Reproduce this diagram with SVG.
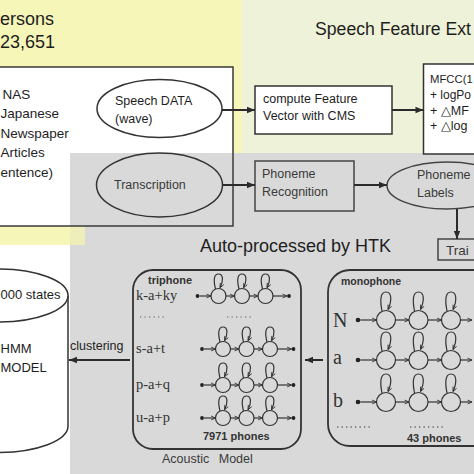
<svg xmlns="http://www.w3.org/2000/svg" width="474" height="474" viewBox="0 0 474 474">
<style>
.t{font-family:"Liberation Sans",Arial,sans-serif;fill:#1e1e1e}
.tg{font-family:"Liberation Sans",Arial,sans-serif;fill:#3a3a3a}
.b{font-family:"Liberation Sans",Arial,sans-serif;font-weight:bold;fill:#333}
.sf{font-family:"Liberation Serif","Times New Roman",serif;fill:#333}
.box{stroke:#333;stroke-width:1.5}
.conn{stroke:#2b2b2b;stroke-width:2;fill:none}
.sm circle,.sm line,.sm path{stroke:#333;stroke-width:1.2;fill:none}
.sm .dt{fill:#222;stroke:none}
.dots{stroke:#8a8a8a;stroke-width:1.3;stroke-dasharray:1.3 3.2;fill:none}
</style>
<defs>
<marker id="ah" viewBox="0 0 10 10" refX="10" refY="5" markerWidth="9" markerHeight="8" orient="auto" markerUnits="userSpaceOnUse"><path d="M0,1 L10,5 L0,9 z" fill="#2b2b2b"/></marker>
<marker id="oh" viewBox="0 0 10 10" refX="9" refY="5" markerWidth="5.5" markerHeight="5.5" orient="auto" markerUnits="userSpaceOnUse"><path d="M1,1.5 L9,5 L1,8.5" fill="none" stroke="#333" stroke-width="1.6"/></marker>
<g id="trow" class="sm">
<circle class="dt" r="1.9"/>
<line x1="2" y1="0" x2="13.5" y2="0" marker-end="url(#oh)"/>
<circle cx="21" cy="0" r="7.5"/>
<line x1="28.5" y1="0" x2="37" y2="0" marker-end="url(#oh)"/>
<circle cx="44.5" cy="0" r="7.5"/>
<line x1="52" y1="0" x2="60.5" y2="0" marker-end="url(#oh)"/>
<circle cx="68" cy="0" r="7.5"/>
<line x1="75.5" y1="0" x2="89.5" y2="0" marker-end="url(#oh)"/>
<circle class="dt" cx="91.5" cy="0" r="1.9"/>
<path d="M18,-7 C16,-15 16,-22 21,-22 C26,-22 26,-15 22.5,-8.3" marker-end="url(#oh)"/>
<path d="M41.5,-7 C39.5,-15 39.5,-22 44.5,-22 C49.5,-22 49.5,-15 46,-8.3" marker-end="url(#oh)"/>
<path d="M65,-7 C63,-15 63,-22 68,-22 C73,-22 73,-15 69.5,-8.3" marker-end="url(#oh)"/>
</g>
<g id="mrow" class="sm">
<circle class="dt" r="2.3"/>
<line x1="2.3" y1="0" x2="18.5" y2="0" marker-end="url(#oh)"/>
<circle cx="28" cy="0" r="9.5"/>
<line x1="37.5" y1="0" x2="51" y2="0" marker-end="url(#oh)"/>
<circle cx="60.5" cy="0" r="9.5"/>
<line x1="70" y1="0" x2="83.5" y2="0" marker-end="url(#oh)"/>
<circle cx="93" cy="0" r="9.5"/>
<line x1="102.5" y1="0" x2="114" y2="0" marker-end="url(#oh)"/>
<path d="M24,-9 C22,-19 22,-28 28,-28 C34,-28 34,-19 30,-10.5" marker-end="url(#oh)"/>
<path d="M56.5,-9 C54.5,-19 54.5,-28 60.5,-28 C66.5,-28 66.5,-19 62.5,-10.5" marker-end="url(#oh)"/>
<path d="M89,-9 C87,-19 87,-28 93,-28 C99,-28 99,-19 95,-10.5" marker-end="url(#oh)"/>
</g>
</defs>

<g id="backgrounds">
<rect x="0" y="0" width="242" height="245" fill="#f6f6b9"/>
<rect x="242" y="0" width="232" height="153" fill="#eef2d8"/>
<rect x="-2" y="67" width="235" height="159" fill="#ffffff"/>
<rect x="70" y="153" width="404" height="321" fill="#d9d9d9"/>
<rect x="70" y="226" width="15" height="19" fill="#eeeebb"/>
<rect x="-2" y="67" width="235" height="159" fill="none" stroke="#3a3a3a" stroke-width="1.5"/>
</g>

<g id="titles">
<text class="t" x="0" y="25" font-size="18">ersons</text>
<text class="t" x="0" y="48" font-size="18">23,651</text>
<text class="t" x="315" y="35" font-size="18" textLength="156" lengthAdjust="spacingAndGlyphs">Speech Feature Ext</text>
<text class="t" x="200" y="252" font-size="18">Auto-processed by HTK</text>
</g>

<g id="corpus">
<text class="t" font-size="13.5"><tspan x="2.5" y="99">NAS</tspan><tspan x="0.5" y="118">Japanese</tspan><tspan x="0.5" y="138">Newspaper</tspan><tspan x="0.5" y="157">Articles</tspan><tspan x="0.5" y="177">entence)</tspan></text>
</g>

<g id="speech-data">
<ellipse cx="159.5" cy="108.5" rx="62.5" ry="29" fill="#fff" stroke="#333" stroke-width="1.5"/>
<text class="t" font-size="12.5"><tspan x="115" y="105">Speech DATA</tspan><tspan x="115" y="123">(wave)</tspan></text>
</g>

<g id="transcription">
<ellipse cx="159.5" cy="185" rx="63" ry="32" fill="none" stroke="#333" stroke-width="1.5"/>
<text class="tg" x="114" y="189" font-size="12.5">Transcription</text>
</g>

<g id="compute">
<rect class="box" x="255" y="86" width="137" height="48" fill="#fff"/>
<text class="t" font-size="12.5"><tspan x="263" y="103">compute Feature</tspan><tspan x="263" y="120">Vector with CMS</tspan></text>
</g>

<g id="mfcc">
<rect class="box" x="423.5" y="64" width="60" height="90" fill="#fff"/>
<text class="t" x="430" y="83" font-size="11.3">MFCC(1</text>
<text class="t" x="430" y="99" font-size="12">+ logPo</text>
<text class="t" x="430" y="114.5" font-size="12.5">+ △MF</text>
<text class="t" x="430" y="130" font-size="12.5">+ △log</text>
</g>

<g id="phoneme-recognition">
<rect x="255" y="161" width="99" height="50" fill="none" stroke="#444" stroke-width="1.5"/>
<text class="tg" font-size="12.5"><tspan x="262" y="178">Phoneme</tspan><tspan x="262" y="196">Recognition</tspan></text>
</g>

<g id="phoneme-labels">
<ellipse cx="447" cy="185.5" rx="60" ry="23.5" fill="none" stroke="#444" stroke-width="1.5"/>
<text class="tg" font-size="12.5"><tspan x="417" y="179">Phoneme</tspan><tspan x="417" y="197">Labels</tspan></text>
</g>

<g id="train">
<rect x="438" y="239" width="50" height="21" fill="none" stroke="#444" stroke-width="1.5"/>
<text class="tg" x="446" y="255" font-size="13.5">Trai</text>
</g>

<g id="hmm-model">
<path d="M68,295.5 V426 A70,26.5 0 0 1 -72,426 V295.5" fill="#fff" stroke="#333" stroke-width="1.5"/>
<ellipse cx="-2" cy="295.5" rx="70" ry="26.5" fill="#fff" stroke="#333" stroke-width="1.5"/>
<text class="t" x="0.5" y="299" font-size="13">000 states</text>
<text class="t" font-size="13"><tspan x="0.5" y="353">HMM</tspan><tspan x="0.5" y="372">MODEL</tspan></text>
</g>

<g id="triphone">
<rect x="133" y="270" width="168" height="179" rx="20" ry="20" fill="none" stroke="#333" stroke-width="1.8"/>
<text class="b" x="148" y="284" font-size="11">triphone</text>
<text class="sf" x="136" y="300" font-size="14.5">k-a+ky</text>
<text class="sf" x="136" y="353" font-size="14.5">s-a+t</text>
<text class="sf" x="136" y="389" font-size="14.5">p-a+q</text>
<text class="sf" x="136" y="422" font-size="14.5">u-a+p</text>
<use href="#trow" x="197.5" y="296"/>
<use href="#trow" x="202" y="349"/>
<use href="#trow" x="202" y="385"/>
<use href="#trow" x="202" y="418"/>
<path class="dots" d="M140,317 H166 M227,317 H251"/>
<text class="b" x="203" y="440" font-size="11">7971 phones</text>
</g>

<g id="monophone">
<rect x="328" y="270" width="170" height="176" rx="22" ry="22" fill="none" stroke="#333" stroke-width="1.8"/>
<text class="b" x="341" y="285" font-size="10.5">monophone</text>
<text class="sf" x="333" y="327" font-size="20">N</text>
<text class="sf" x="333" y="364" font-size="20">a</text>
<text class="sf" x="333" y="407" font-size="20">b</text>
<use href="#mrow" x="358" y="320"/>
<use href="#mrow" x="358" y="360"/>
<use href="#mrow" x="358" y="402"/>
<path class="dots" d="M337,427 H371 M410,427 H444" style="stroke:#666"/>
<text class="b" x="407" y="442" font-size="11">43 phones</text>
</g>

<g id="acoustic-label">
<text class="tg" x="162" y="463" font-size="12.5" word-spacing="6">Acoustic Model</text>
</g>

<g id="connectors">
<line class="conn" x1="222" y1="110" x2="255" y2="110" marker-end="url(#ah)"/>
<line class="conn" x1="392" y1="110" x2="423.5" y2="110" marker-end="url(#ah)"/>
<line class="conn" x1="222.5" y1="185" x2="255" y2="185" marker-end="url(#ah)"/>
<line class="conn" x1="354" y1="185" x2="387" y2="185" marker-end="url(#ah)"/>
<line class="conn" x1="457" y1="209" x2="457" y2="239" marker-end="url(#ah)"/>
<line class="conn" x1="323" y1="360" x2="305" y2="360" stroke-width="2.5" marker-end="url(#ah)"/>
<line class="conn" x1="130" y1="360" x2="69" y2="360" marker-end="url(#ah)"/>
<text class="t" x="70" y="350" font-size="12.5">clustering</text>
</g>
</svg>
